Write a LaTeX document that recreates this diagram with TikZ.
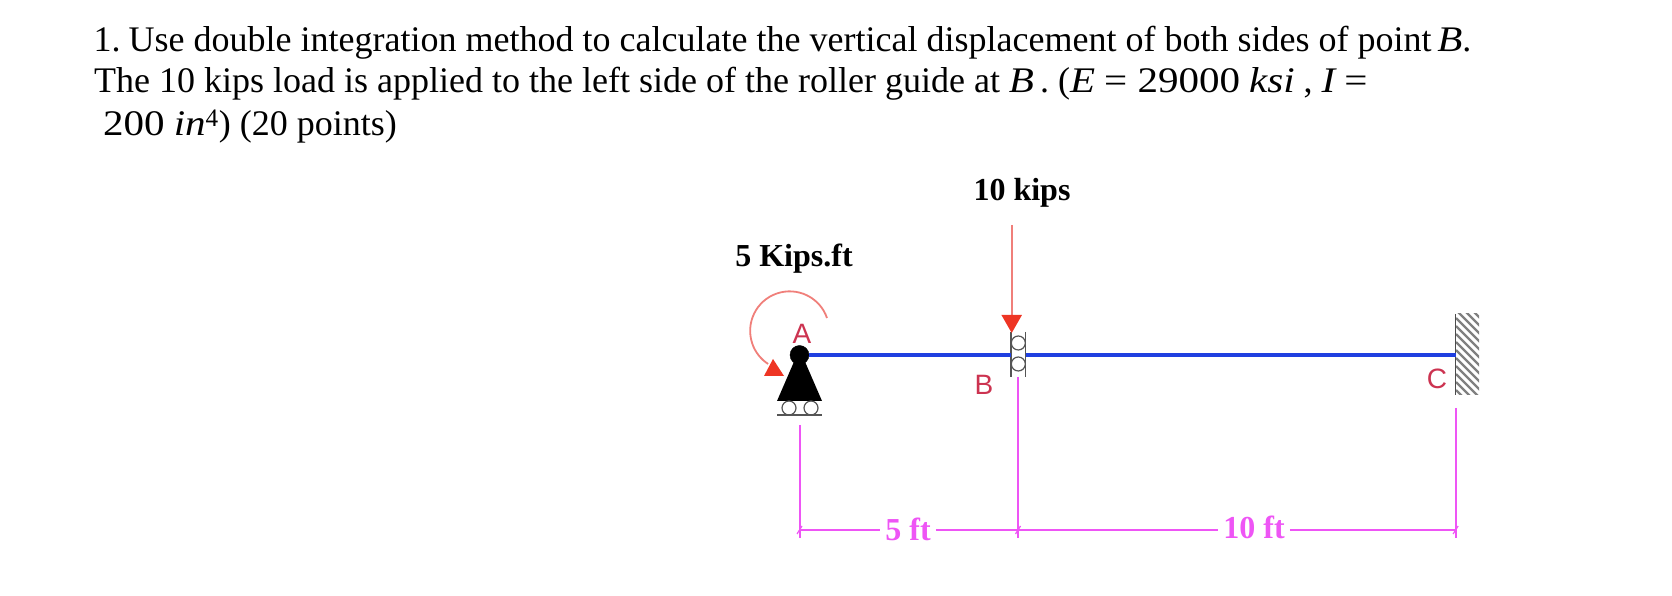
\documentclass[tikz,border=0pt]{standalone}
\usepackage{fontspec}
\setmainfont{Liberation Serif}
\newfontfamily\labelfont{Liberation Sans}
\newfontfamily\mvarfont[FakeStretch=1.14]{Liberation Serif}
\usetikzlibrary{positioning, arrows.meta}
\definecolor{beamblue}{HTML}{1F3FE0}
\definecolor{dimpink}{HTML}{EE55F5}
\definecolor{loadred}{HTML}{F07F7A}
\definecolor{headred}{HTML}{EE3524}
\definecolor{labelred}{HTML}{CC3350}
\definecolor{rollgray}{HTML}{555555}
\newcommand{\qfont}{\fontsize{36}{36}\selectfont}
\newcommand{\tagfont}{\fontsize{32}{32}\selectfont\bfseries}
\newcommand{\ptfont}{\labelfont\fontsize{28}{28}\selectfont}
\newcommand{\mvar}[1]{{\mvarfont\itshape #1}}
\newcommand{\mnum}[1]{{\mvarfont #1}}

\begin{document}
\begin{tikzpicture}[x=1pt, y=1pt,
		question/.style={inner sep=0pt, anchor=base west, font=\qfont},
		tag/.style={inner sep=0pt, font=\tagfont},
		ptlabel/.style={inner sep=0pt, text=labelred, font=\ptfont},
		dimtext/.style={inner sep=5pt, text=dimpink, font=\tagfont},
		roller/.style={draw=rollgray, circle, fill=white, line width=1.2pt, minimum size=14pt, inner sep=0pt},
		beam/.style={draw=beamblue, line width=3.5pt},
		guide/.style={draw=rollgray, line width=1.5pt},
		dimline/.style={draw=dimpink, line width=2pt}]
		\useasboundingbox (0, 0) rectangle (1672, 596);

		\node[question] (line1) at (94, 544) {\hspace{-0.5pt}1.\hspace{-4pt} Use double integration method to calculate the vertical displacement of both sides of point\hspace{-3pt} \mvar{B}.};
		\node[question] (line2) at (94, 503) {The 10 kips load is applied to the left side of the roller guide at \mvar{B}\,. (\mvar{E} \mnum{= 29000} \mvar{ksi} , \mvar{I} \mnum{=}};
		\node[question] (line3) at (103, 460) {\mnum{200} \mvar{in}\textsuperscript{4}) (20 points)};

		\node[tag] (tenkips) at (1022, 403) {10 kips};
		\node[tag] (fivekips) at (794, 337) {5 Kips.ft};
		\node[ptlabel] (ptA) at (802, 262) {A};
		\node[ptlabel] (ptB) at (984, 211) {B};
		\node[ptlabel] (ptC) at (1437, 217) {C};

		% support at A
		\node[draw, circle, fill=black, minimum size=19pt, inner sep=0pt] (pinA) at (799.5, 241) {};
		\fill (799.5, 247) -- (777, 195) -- (822, 195) -- cycle;
		\node[roller] (rollerA1) at (789, 188) {};
		\node[roller] (rollerA2) at (811, 188) {};
		\coordinate (groundL) at (777, 181);
		\coordinate (groundR) at (822, 181);
		\draw [guide] (groundL) -- (groundR);

		% roller guide at B
		\coordinate (guideLT) at (1011, 264);
		\coordinate (guideLB) at (1011, 219);
		\coordinate (guideRT) at (1025.7, 264);
		\coordinate (guideRB) at (1025.7, 219);
		\coordinate (guideL) at (1011, 241);
		\coordinate (guideR) at (1025.7, 241);
		\node[roller] (rollerB1) at (1018.3, 253) {};
		\node[roller] (rollerB2) at (1018.3, 232) {};
		\draw [guide] (guideLT) -- (guideLB);
		\draw [guide] (guideRT) -- (guideRB);

		% wall at C
		\begin{scope}
			\clip (1456, 201) rectangle (1479, 282);
			\foreach \y in {190, 198, ..., 310} {
				\draw [black!50, line width=2.2pt] (1456, \y) -- ++(24, -24);
			}
		\end{scope}
		\coordinate (wallT) at (1455.5, 282);
		\coordinate (wallB) at (1455.5, 201);
		\coordinate (wallM) at (1455.5, 241);
		\draw [draw=black!70, line width=1.8pt] (wallT) -- (wallB);

		\draw [beam] (pinA) -- (guideL);
		\draw [beam] (guideR) -- (wallM);

		% loads
		\coordinate (loadtop) at (1011.7, 371);
		\coordinate (loadtip) at (1011.7, 263);
		\draw [loadred, line width=2pt, -{Triangle[length=18pt, width=20pt, color=headred]}] (loadtop) -- (loadtip);
		\draw [loadred, line width=1.8pt] (827, 278) arc [start angle=19, end angle=237, radius=39.5];
		\fill [headred] (773, 237) -- (764, 220) -- (784, 220) -- cycle;

		% dimensions
		\coordinate (dimAtop) at (799.5, 171);
		\coordinate (dimAbot) at (799.5, 58);
		\coordinate (dimBtop) at (1018, 219);
		\coordinate (dimBbot) at (1018, 58);
		\coordinate (dimCtop) at (1455.6, 188);
		\coordinate (dimCbot) at (1455.6, 58);
		\coordinate (dimA) at (799.5, 66);
		\coordinate (dimB) at (1018, 66);
		\coordinate (dimC) at (1455.6, 66);
		\node[dimtext] (fiveft) at (908, 67) {5 ft};
		\node[dimtext] (tenft) at (1254, 69) {10 ft};
		\draw [dimline] (dimAtop) -- (dimAbot);
		\draw [dimline] (dimBtop) -- (dimBbot);
		\draw [dimline] (dimCtop) -- (dimCbot);
		\draw [dimline] (dimA) -- (fiveft.west |- dimA);
		\draw [dimline] (fiveft.east |- dimB) -- (dimB);
		\draw [dimline] (dimB) -- (tenft.west |- dimB);
		\draw [dimline] (tenft.east |- dimC) -- (dimC);
		\foreach \p in {dimA, dimB, dimC} {
			\draw [dimline, line width=1.2pt] (\p) ++(-2.5, -4) -- ++(5, 8);
		}
	\end{tikzpicture}
\end{document}
